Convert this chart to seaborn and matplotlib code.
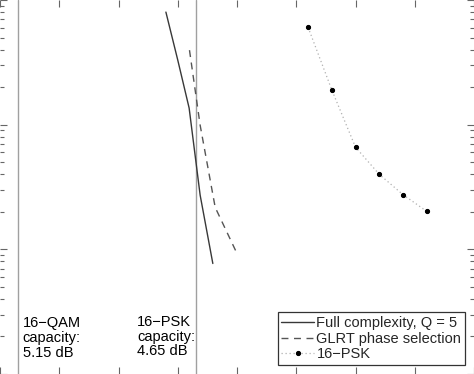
import numpy as np
import pandas as pd
import matplotlib
matplotlib.use("Agg")
import matplotlib.pyplot as plt
import seaborn as sns
from matplotlib.ticker import MultipleLocator, LogLocator, NullFormatter

sns.set_style("white")
plt.rcParams['font.family'] = ['Liberation Sans', 'DejaVu Sans']

# ---- data ----
full_x = [5.90, 6.00, 6.096, 6.189, 6.296]
full_y = [8.0e-3, 3.30e-3, 1.36e-3, 2.72e-4, 7.7e-5]

glrt_x = [6.099, 6.189, 6.316, 6.499]
glrt_y = [3.96e-3, 9.9e-4, 2.17e-4, 9.3e-5]

psk_x = [7.1, 7.3, 7.5, 7.7, 7.9, 8.1]
psk_y = [6.04e-3, 1.9e-3, 6.6e-4, 4.0e-4, 2.75e-4, 2.02e-4]

cap_lines_x = [4.65, 6.15]
labels = ["Full complexity, Q = 5", "GLRT phase selection", "16\u2212PSK"]
cap_texts = ["16\u2212QAM\ncapacity:\n5.15 dB", "16\u2212PSK\ncapacity:\n4.65 dB"]

fig = plt.figure(figsize=(4.74, 3.74), dpi=100)
ax = fig.add_axes([0, 0, 1, 1])

df_full = pd.DataFrame({"x": full_x, "y": full_y})
df_glrt = pd.DataFrame({"x": glrt_x, "y": glrt_y})
df_psk = pd.DataFrame({"x": psk_x, "y": psk_y})

sns.lineplot(data=df_full, x="x", y="y", ax=ax, sort=False, estimator=None,
             color="#383838", linewidth=1.0, label=labels[0])
sns.lineplot(data=df_glrt, x="x", y="y", ax=ax, sort=False, estimator=None,
             color="#555555", linewidth=1.0, linestyle=(0, (5, 4)), label=labels[1])
sns.lineplot(data=df_psk, x="x", y="y", ax=ax, sort=False, estimator=None,
             color="#b0b0b0", linewidth=0.9, linestyle=(0, (1, 2.2)),
             marker="o", markersize=3.0, markerfacecolor="black",
             markeredgecolor="black", label=labels[2])

for xv in cap_lines_x:
    ax.axvline(xv, color="#a0a0a0", linewidth=1.0, zorder=0)

ax.set_yscale("log")
ax.set_xlim(4.5, 8.5)
ax.set_ylim(1e-5, 1e-2)
ax.xaxis.set_major_locator(MultipleLocator(0.5))
ax.yaxis.set_major_locator(LogLocator(base=10, numticks=10))
ax.yaxis.set_minor_locator(LogLocator(base=10, subs=np.arange(2, 10), numticks=20))
ax.yaxis.set_minor_formatter(NullFormatter())
ax.tick_params(which="both", direction="in", top=True, right=True, bottom=True, left=True,
               labelbottom=False, labelleft=False, color="#666666", width=0.8)
ax.tick_params(which="major", length=5)
ax.tick_params(which="minor", length=3)
ax.set_xlabel("")
ax.set_ylabel("")
for s in ax.spines.values():
    s.set_visible(False)

ax.text(0.048, 0.154, cap_texts[0], transform=ax.transAxes, fontsize=10.5,
        ha="left", va="top", linespacing=1.05, color="black")
ax.text(0.289, 0.157, cap_texts[1], transform=ax.transAxes, fontsize=10.5,
        ha="left", va="top", linespacing=1.05, color="black")

leg = ax.legend(loc="lower right", bbox_to_anchor=(0.981, 0.024), fontsize=10.5,
                frameon=True, fancybox=False, edgecolor="#333333", framealpha=1,
                handlelength=2.2, handletextpad=0.2, labelspacing=0.12,
                borderpad=0.25, borderaxespad=0.0, numpoints=1)
leg.get_frame().set_linewidth(0.9)

fig.savefig("out.png", dpi=100)
